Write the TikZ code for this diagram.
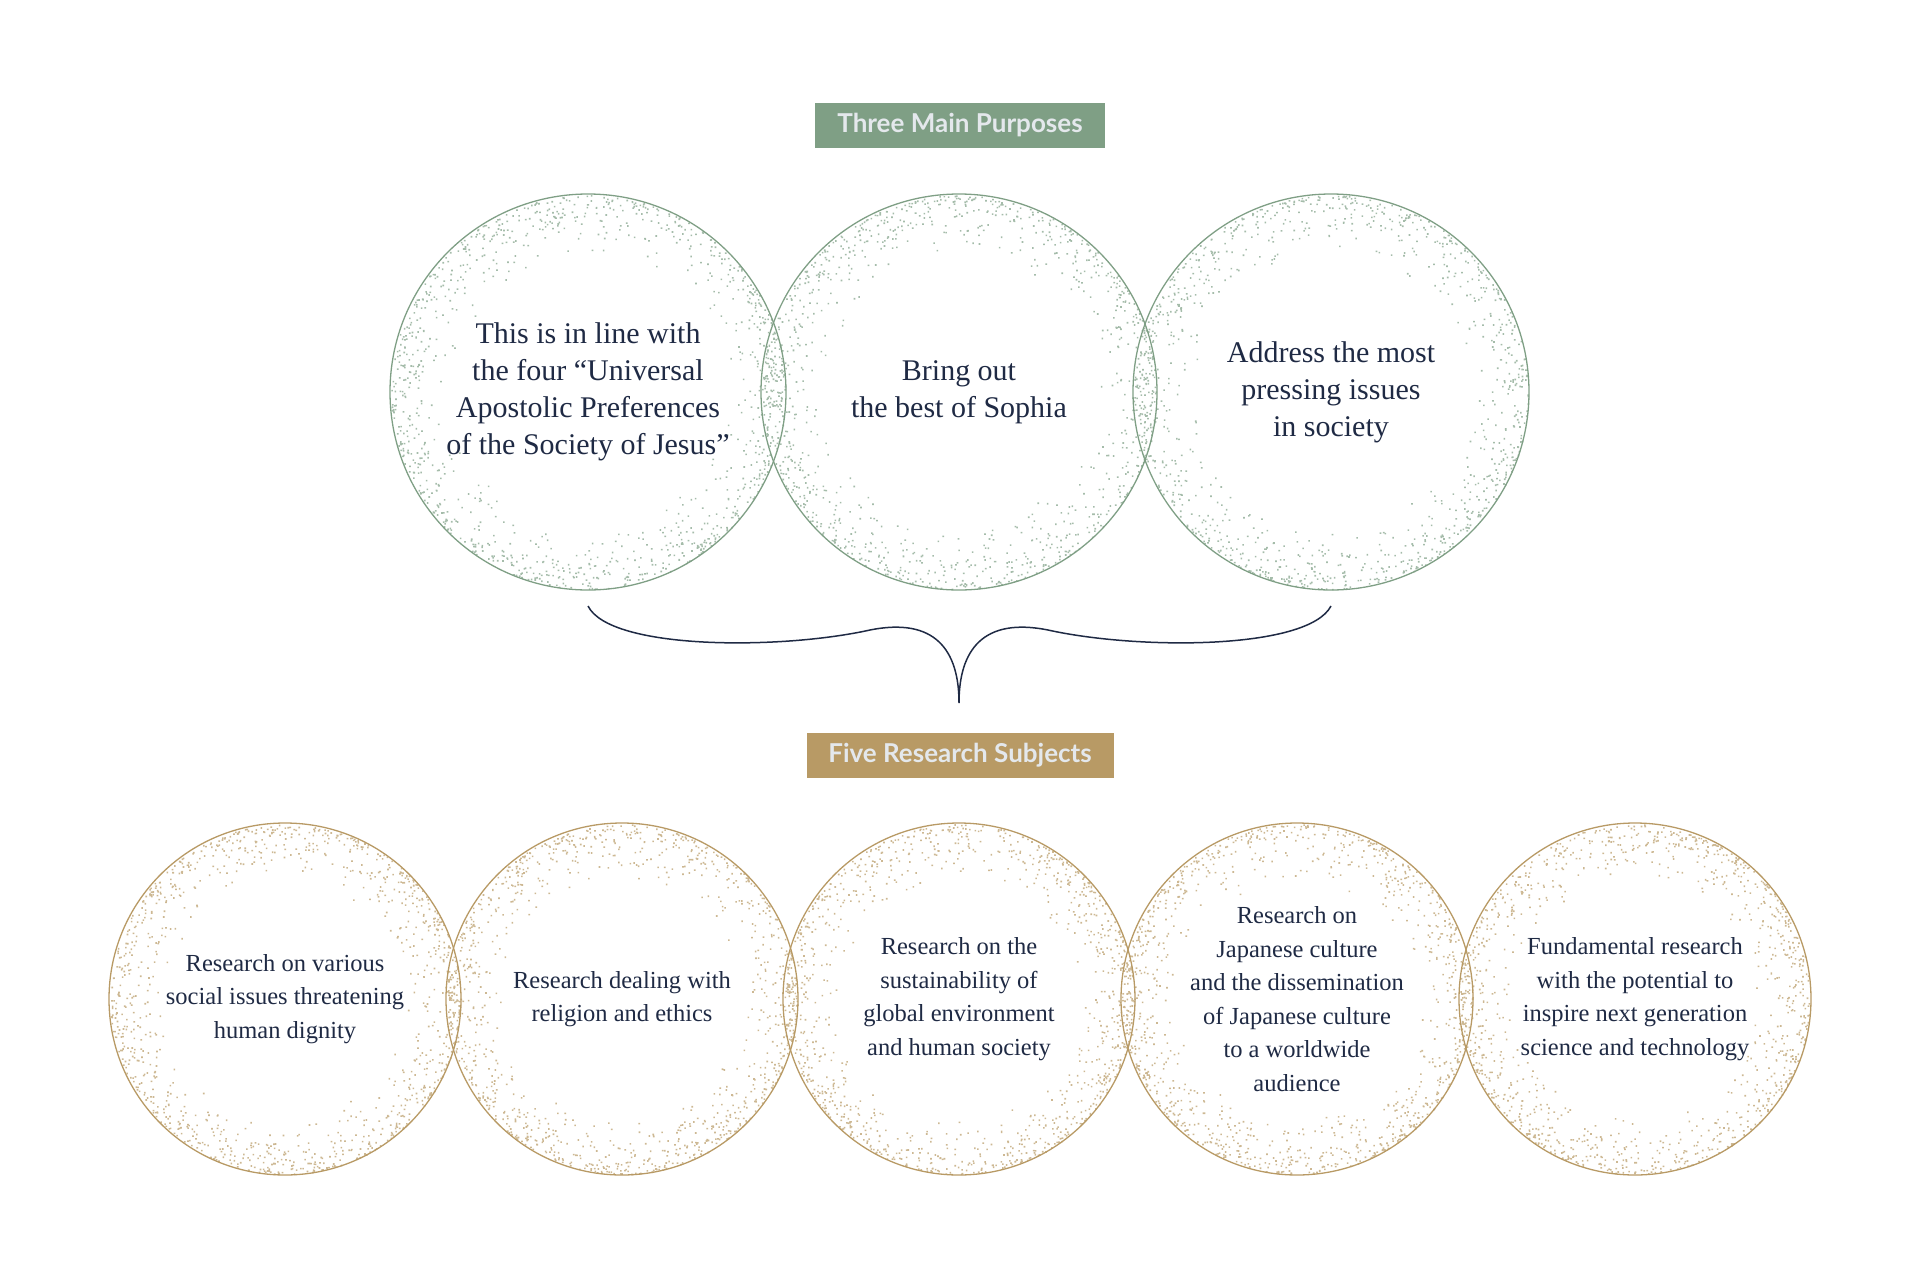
\documentclass[tikz,border=0pt]{standalone}
\usepackage{fontspec}
\setmainfont{Liberation Serif}
\newfontfamily\lab{Lato}
\begin{document}
\definecolor{grn}{HTML}{7F9F85}
\definecolor{gld}{HTML}{B89A65}
\definecolor{ink}{HTML}{1F2A44}
\definecolor{labtxt}{HTML}{E4E8EC}
\begin{tikzpicture}[x=1pt,y=-1pt,
  lbl/.style={inner sep=0pt,minimum height=45pt,text=labtxt,font=\lab\bfseries\fontsize{26}{30}\selectfont},
  big/.style={circle,minimum size=396pt,inner sep=0pt,draw=grn,line width=1.3pt,text=ink,align=center,font=\fontsize{30}{37}\selectfont},
  small/.style={circle,minimum size=352pt,inner sep=0pt,draw=gld,line width=1.3pt,text=ink,align=center,font=\fontsize{24.5}{33.5}\selectfont}]
\useasboundingbox (0,0) rectangle (1920,1280);
\pgfmathsetseed{7}
\newcommand{\stip}[4]{% x y r color
 \fill[#4,shift={(#1,#2)}] \foreach \i in {1,...,1100}{
   \pgfextra{\pgfmathsetmacro\ang{360*rnd}\pgfmathsetmacro\dd{#3*(1-0.32*rnd*rnd)-1}}
   (\ang:\dd) rectangle ++(1.6,1.6)
 };}
\stip{588}{392}{198}{grn!70}
\stip{959}{392}{198}{grn!70}
\stip{1331}{392}{198}{grn!70}
\foreach \x in {285,622,959,1297,1635}{\stip{\x}{999}{176}{gld!70}}
\node[lbl,fill=grn,minimum width=290pt] (t1) at (960,125) {Three Main Purposes};
\node[lbl,fill=gld,minimum width=307pt] (t2) at (960,755) {Five Research Subjects};
\node[big] (a) at (588,392) {This is in line with\\the four “Universal\\Apostolic Preferences\\of the Society of Jesus”};
\node[big] (b) at (959,392) {Bring out\\the best of Sophia};
\node[big] (c) at (1331,392) {Address the most\\pressing issues\\in society};
\node[small] (s1) at (285,999) {Research on various\\social issues threatening\\human dignity};
\node[small] (s2) at (622,999) {Research dealing with\\religion and ethics};
\node[small] (s3) at (959,999) {Research on the\\sustainability of\\global environment\\and human society};
\node[small] (s4) at (1297,999) {Research on\\Japanese culture\\and the dissemination\\of Japanese culture\\to a worldwide\\audience};
\node[small] (s5) at (1635,999) {Fundamental research\\with the potential to\\inspire next generation\\science and technology};
\coordinate (bl) at (588,606);
\coordinate (br) at (1331,606);
\coordinate (bt) at (959,703);
\draw[ink,line width=1.5pt] (bl) .. controls (610,650) and (780,650) .. (870,630) .. controls (935,617) and (959,650) .. (bt)
  .. controls (959,650) and (983,617) .. (1048,630) .. controls (1138,650) and (1308,650) .. (br);
\end{tikzpicture}
\end{document}
